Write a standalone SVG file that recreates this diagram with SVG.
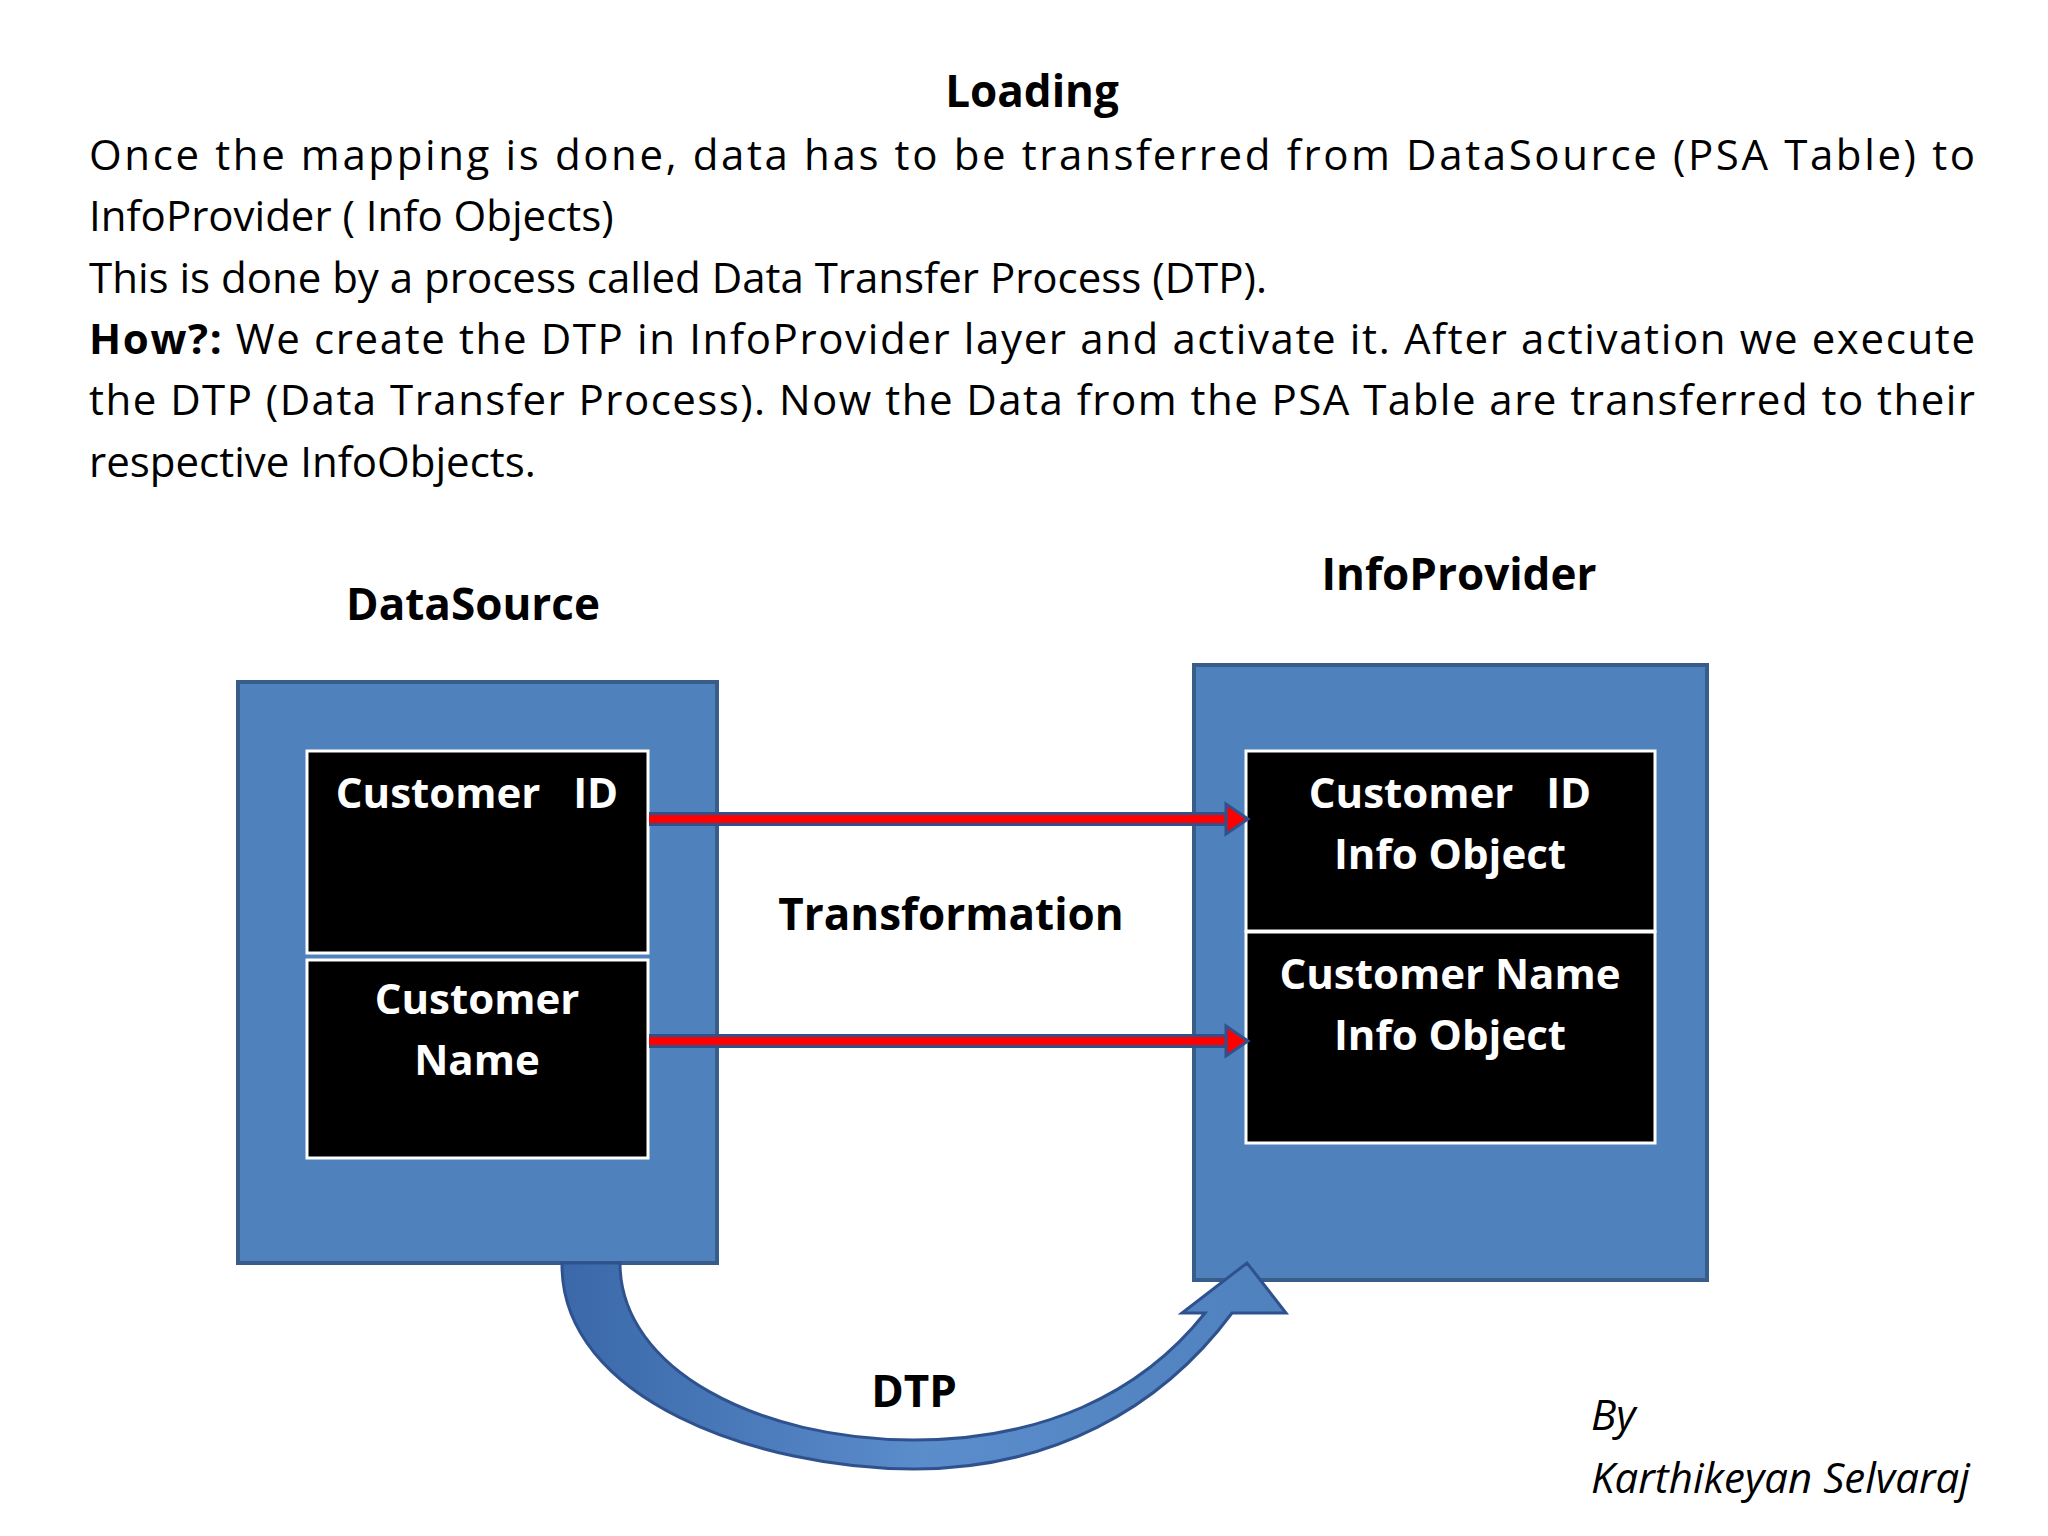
<svg xmlns="http://www.w3.org/2000/svg" width="2048" height="1536" viewBox="0 0 2048 1536">
<style>
text{font-family:"Open Sans","Liberation Sans",sans-serif;fill:#000}
.p{font-size:42px}
.b{font-weight:bold}
.w{fill:#fff;font-weight:bold;font-size:42px}
.h{font-size:44px;font-weight:bold}
.outer{fill:#4f81bd;stroke:#385d8a;stroke-width:4}
.inner{fill:#000;stroke:#fff;stroke-width:3}
.arr{stroke:#ff0000;stroke-width:8;fill:none}
.arrb{stroke:#2f528f;stroke-width:14;fill:none}
</style>
<defs>
<linearGradient id="g" x1="0" y1="0" x2="1" y2="0">
<stop offset="0" stop-color="#3a68a8"/><stop offset="0.5" stop-color="#5b8ccc"/><stop offset="1" stop-color="#4f81bd"/>
</linearGradient>
</defs>
<rect width="2048" height="1536" fill="#fff"/>
<text x="1032" y="107" text-anchor="middle" class="h">Loading</text>
<text class="p" x="89" y="170" textLength="1886" lengthAdjust="spacing">Once the mapping is done, data has to be transferred from DataSource (PSA Table) to</text>
<text class="p" x="89" y="231">InfoProvider ( Info Objects)</text>
<text class="p" x="89" y="293">This is done by a process called Data Transfer Process (DTP).</text>
<text class="p" x="89" y="354" textLength="1886" lengthAdjust="spacing"><tspan class="b">How?:</tspan> We create the DTP in InfoProvider layer and activate it. After activation we execute</text>
<text class="p" x="89" y="415" textLength="1886" lengthAdjust="spacing">the DTP (Data Transfer Process). Now the Data from the PSA Table are transferred to their</text>
<text class="p" x="89" y="477">respective InfoObjects.</text>

<g id="datasource">
<text x="473" y="620" text-anchor="middle" class="h">DataSource</text>
<rect class="outer" x="238" y="682" width="479" height="581"/>
</g>
<g id="ds-customer-id">
<rect class="inner" x="307" y="751" width="341" height="202"/>
<text class="w" x="477" y="808" text-anchor="middle">Customer &#160; ID</text>
</g>
<g id="ds-customer-name">
<rect class="inner" x="307" y="960" width="341" height="198"/>
<text class="w" x="477" y="1014" text-anchor="middle">Customer</text>
<text class="w" x="477" y="1075" text-anchor="middle">Name</text>
</g>

<g id="infoprovider">
<text x="1459" y="590" text-anchor="middle" class="h">InfoProvider</text>
<rect class="outer" x="1194" y="665" width="513" height="615"/>
</g>
<g id="ip-customer-id">
<rect class="inner" x="1246" y="751" width="409" height="180"/>
<text class="w" x="1450" y="808" text-anchor="middle">Customer &#160; ID</text>
<text class="w" x="1450" y="869" text-anchor="middle">Info Object</text>
</g>
<g id="ip-customer-name">
<rect class="inner" x="1246" y="932" width="409" height="211"/>
<text class="w" x="1450" y="989" text-anchor="middle">Customer Name</text>
<text class="w" x="1450" y="1050" text-anchor="middle">Info Object</text>
</g>

<g id="connectors">
<line class="arrb" x1="649" y1="819" x2="1230" y2="819"/>
<line class="arr" x1="649" y1="819" x2="1230" y2="819"/>
<polygon points="1226,804 1248,819 1226,834" fill="#ff0000" stroke="#2f528f" stroke-width="3"/>
<line class="arrb" x1="649" y1="1041" x2="1230" y2="1041"/>
<line class="arr" x1="649" y1="1041" x2="1230" y2="1041"/>
<polygon points="1226,1026 1248,1041 1226,1056" fill="#ff0000" stroke="#2f528f" stroke-width="3"/>
<path d="M562 1263 C560 1400 760 1469 914 1469 C1050 1469 1160 1410 1232 1313 L1286 1313 L1247 1263 L1182 1313 L1205 1313 C1140 1395 1040 1440 914 1440 C760 1440 620 1370 620 1263 Z" fill="url(#g)" stroke="#2f528f" stroke-width="3"/>
<text x="951" y="930" text-anchor="middle" class="h">Transformation</text>
<text x="914" y="1407" text-anchor="middle" class="h">DTP</text>
</g>

<text class="p" x="1591" y="1430" font-style="italic">By</text>
<text class="p" x="1591" y="1493" font-style="italic">Karthikeyan Selvaraj</text>
</svg>
